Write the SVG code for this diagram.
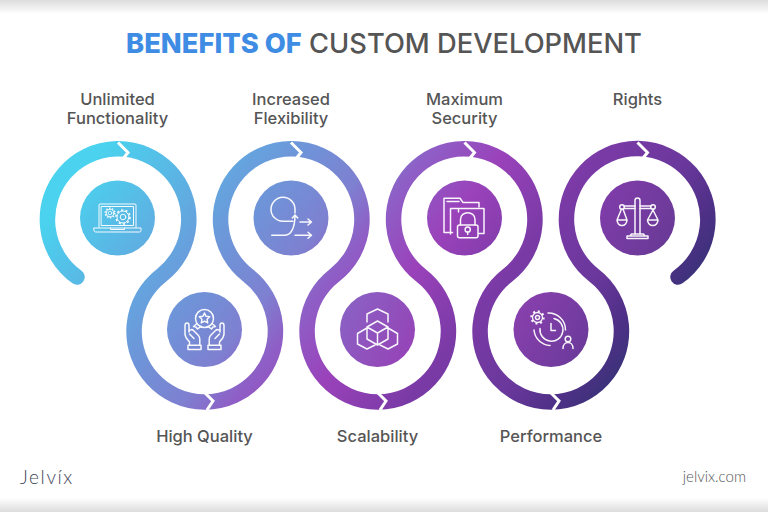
<svg xmlns="http://www.w3.org/2000/svg" xmlns:xlink="http://www.w3.org/1999/xlink" width="768" height="512" viewBox="0 0 768 512">
<style>
.lbl{font-family:"Inter","Open Sans","Liberation Sans",sans-serif;font-size:16.500px;font-weight:500;fill:#555;text-anchor:middle}
.ico{fill:none;stroke:#fff;stroke-width:1.500;stroke-linecap:round;stroke-linejoin:round;opacity:.95}
.chev{fill:none;stroke:#fff;stroke-width:3;stroke-linejoin:miter}
</style>
<defs>
<linearGradient id="flow" gradientUnits="userSpaceOnUse" x1="70" y1="190" x2="502" y2="529">
<stop offset="0" stop-color="#4AD2EE"/>
<stop offset=".27" stop-color="#6C98DA"/>
<stop offset=".40" stop-color="#7E80D0"/>
<stop offset=".47" stop-color="#8E5FC6"/>
<stop offset=".58" stop-color="#9A42BA"/>
<stop offset=".72" stop-color="#7A3AA6"/>
<stop offset=".85" stop-color="#6A389C"/>
<stop offset=".93" stop-color="#503088"/>
<stop offset="1" stop-color="#3A3278"/>
</linearGradient>
<linearGradient id="c5" x1="0" y1="0.200" x2="1" y2="0.800"><stop offset="0" stop-color="#8A62C4"/><stop offset="1" stop-color="#9642B6"/></linearGradient>
<linearGradient id="c6" x1="0" y1="0.200" x2="1" y2="0.800"><stop offset="0" stop-color="#8A40AE"/><stop offset="1" stop-color="#6A3A9A"/></linearGradient>
<linearGradient id="c7" x1="0" y1="0.200" x2="1" y2="0.800"><stop offset="0" stop-color="#803CAA"/><stop offset="1" stop-color="#683A96"/></linearGradient>
<linearGradient id="top" x1="0" y1="0" x2="0" y2="1"><stop offset="0" stop-color="#dcdcdc"/><stop offset="1" stop-color="#fff"/></linearGradient>
<linearGradient id="bot" x1="0" y1="0" x2="0" y2="1"><stop offset="0" stop-color="#fff"/><stop offset="1" stop-color="#dcdcdc"/></linearGradient>
<path id="chevT" class="chev" d="M-0.500 -9.500L9.500 0.500L3.500 8"/>
<path id="chevB" class="chev" d="M0 -8L8 0L2 9"/>
<path id="hand" d="M-15 15V12.500C-17 10-19.500 8-19.500 4.500V-4C-19.500-7.500-15.500-7.500-15.500-4V2.500M-15 4.500L-10.500 9M-15.500 2.500C-15.500 1-13 -1-11 1L-6 6C-5 7-4.700 8-4.700 10V15M-16.500 15.800H-3.500V20H-16.500Z"/>
</defs>
<rect width="768" height="512" fill="#fff"/>
<rect width="768" height="14" fill="url(#top)"/>
<rect y="498" width="768" height="14" fill="url(#bot)"/>
<text x="384" y="53" text-anchor="middle" font-family="Inter,'Open Sans','Liberation Sans',sans-serif" font-size="27.300" fill="#555"><tspan font-weight="800" fill="#3F8CE4">BENEFITS OF</tspan><tspan font-weight="500"> CUSTOM DEVELOPMENT</tspan></text>
<g id="connectors">
<path d="M77 277A70.700 70.700 0 1 1 161.500 275.300A70.700 70.700 0 1 0 248 275.300A70.700 70.700 0 1 1 334.500 275.300A70.700 70.700 0 1 0 421 275.300A70.700 70.700 0 1 1 507.500 275.300A70.700 70.700 0 1 0 594 275.300A70.700 70.700 0 1 1 678 277" fill="none" stroke="url(#flow)" stroke-width="15.500" stroke-linecap="round"/>
<use href="#chevT" x="118.500" y="152"/><use href="#chevT" x="291.500" y="152"/><use href="#chevT" x="465" y="152"/><use href="#chevT" x="638" y="152"/>
<use href="#chevB" x="205" y="401"/><use href="#chevB" x="378" y="401"/><use href="#chevB" x="551" y="401"/>
</g>
<g id="node-unlimited">
<circle cx="117.500" cy="218" r="37.500" fill="url(#flow)"/>
<g class="ico" transform="translate(117.500 218)">
<path d="M-18.500 9.500V-13A1 1 0 0 1-17.500-14H17.500A1 1 0 0 1 18.500-13V9.500M-16-11.500H16V7.500H-16Z" stroke-width="1"/>
<path d="M-23.500 10H23.500V12.500A1.500 1.500 0 0 1 22 14H-22A1.500 1.500 0 0 1-23.500 12.500ZM-7 10V11.500H7V10" stroke-width="1"/>
<circle cx="-7.500" cy="-5" r="3.800" stroke-width="1"/><circle cx="-7.500" cy="-5" r="1.800" stroke-width=".8"/><circle cx="-7.500" cy="-5" r="4.800" stroke-width="1.400" stroke-dasharray="1.500 1.500" stroke-linecap="butt"/>
<circle cx="5.500" cy="-1" r="6" stroke-width="1"/><circle cx="5.500" cy="-1" r="2.800" stroke-width="1"/><circle cx="5.500" cy="-1" r="7" stroke-width="1.600" stroke-dasharray="2.200 2.200" stroke-linecap="butt"/>
</g>
<text class="lbl" x="117.500" y="105">Unlimited</text><text class="lbl" x="117.500" y="124">Functionality</text>
</g>
<g id="node-quality">
<circle cx="204.500" cy="329.500" r="37.500" fill="url(#flow)"/>
<g class="ico" transform="translate(204.500 329.500)">
<circle cy="-11" r="9"/>
<path d="M0-16.500L1.600-13.200L5.200-12.700L2.600-10.200L3.200-6.600L0-8.300L-3.200-6.600L-2.600-10.200L-5.200-12.700L-1.600-13.200Z"/>
<path d="M-7.500-6L-11-3L-8.500-2.500L-7-.5L-3.500-3.200M7.500-6L11-3L8.500-2.500L7-.5L3.500-3.200"/>
<use href="#hand"/><use href="#hand" transform="scale(-1 1)"/>
</g>
<text class="lbl" x="204.500" y="442">High Quality</text>
</g>
<g id="node-flexibility">
<circle cx="291" cy="218" r="37.500" fill="url(#flow)"/>
<g class="ico" transform="translate(291 218)">
<path d="M2 3.300H-8A12 12 0 1 1 4-9V-5"/>
<path d="M-19.300 17.300H-6C0 17 4 10 4-3M1.300 0L4-3L6.700 0"/>
<path d="M9 4H20M17 1L20.500 4L17 7M4 17.300H20M17 14.300L20.500 17.300L17 20.300"/>
</g>
<text class="lbl" x="291" y="105">Increased</text><text class="lbl" x="291" y="124">Flexibility</text>
</g>
<g id="node-scalability">
<circle cx="377.500" cy="329.500" r="37.500" fill="url(#c5)"/>
<g class="ico" transform="translate(377.500 329.500)">
<path d="M-10.500-7.500V-15.500L0-20.500L10.500-15.500V-7.500"/>
<path d="M0-8.500L10.500-2.500V9.500L0 15.500L-10.500 9.500V-2.500ZM-10.500-2.500L0 3.500L10.500-2.500M0 3.500V15.500"/>
<path d="M-10.500-1.500L-20 4V14.500L-10.500 19.500L-2.500 15.500M10.500-1.500L20 4V14.500L10.500 19.500L2.500 15.500"/>
</g>
<text class="lbl" x="377.500" y="442">Scalability</text>
</g>
<g id="node-security">
<circle cx="464.500" cy="218" r="37.500" fill="url(#flow)"/>
<g class="ico" transform="translate(464.500 218)">
<path d="M-12 14.500H-20.500V-19.800H-4.500L-1.500-15.500H14.500V-11"/>
<path d="M-17.500-16.500H-5.500"/>
<path d="M-14 16V-9.500H19.500V15.500H14M-6 -6V-9.500"/>
<rect x="-7" y="7" width="20.500" height="12.800" rx="2"/>
<path d="M-4 7V1.500C-4-7.500 10.500-7.500 10.500 1.500V7"/>
<circle cx="3.200" cy="11.500" r="2.600"/><path d="M3.200 14V16.500"/>
</g>
<text class="lbl" x="464.500" y="105">Maximum</text><text class="lbl" x="464.500" y="124">Security</text>
</g>
<g id="node-performance">
<circle cx="551" cy="329.500" r="37.500" fill="url(#c6)"/>
<g class="ico" transform="translate(551 329.500)">
<circle cx="-13.500" cy="-12" r="5" stroke-width="1.300"/><circle cx="-13.500" cy="-12" r="2"/><circle cx="-13.500" cy="-12" r="6.200" stroke-width="2" stroke-dasharray="2 2.800" stroke-linecap="butt"/>
<path d="M-3-16.500A17 17 0 0 1 14.500 0.500M-17 .5A17 17 0 0 0-1 16"/>
<path d="M-11 -1A11.500 11.500 0 1 0 3-11"/>
<path d="M0-6V1H4.500"/>
<circle cx="17" cy="9.500" r="2.800"/><path d="M12 19C12 11 22 11 22 19"/>
</g>
<text class="lbl" x="551" y="442">Performance</text>
</g>
<g id="node-rights">
<circle cx="637.500" cy="218" r="37.500" fill="url(#c7)"/>
<g class="ico" transform="translate(637.500 218)">
<path d="M-2.500 16V-17.500A2.500 2.500 0 0 1 2.500-17.500V16"/>
<path d="M-13.500-12H-2.500M-13.500-9.500H-2.500M2.500-12H13.500M2.500-9.500H13.500"/>
<circle cx="-15.500" cy="-11" r="2.300"/><circle cx="15.500" cy="-11" r="2.300"/>
<path d="M-16-9L-20.500 2H-10.500L-14.500-9M-20.500 2A5 5.500 0 0 0-10.500 2M16-9L10 2H20.500L15-9M10 2A5.200 5.500 0 0 0 20.500 2"/>
<path d="M-6 16H6L7.500 18H-7.500ZM-10.500 18H10.500V20.500H-10.500Z"/>
</g>
<text class="lbl" x="637.500" y="105">Rights</text>
</g>
<text x="20" y="484" font-family="Lato,'Liberation Sans',sans-serif" font-size="19" font-weight="300" letter-spacing="1.600" fill="#3f4658">Jelvíx</text>
<text x="746" y="482" text-anchor="end" font-family="Lato,'Liberation Sans',sans-serif" font-size="15" font-weight="300" fill="#555">jelvix.com</text>
</svg>
